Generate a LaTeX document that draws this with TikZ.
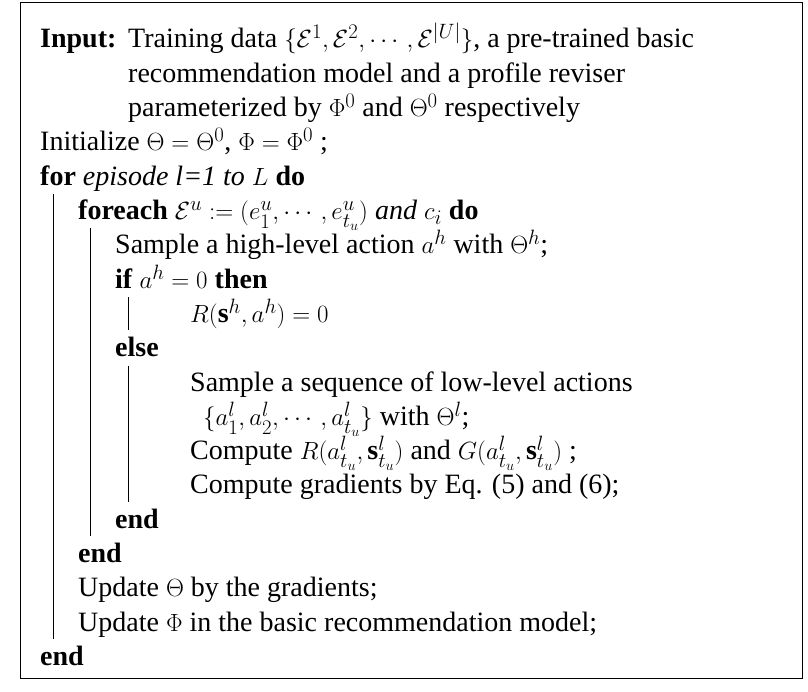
\documentclass[tikz,border=0pt]{standalone}
\usepackage{amsmath,amssymb}
\usepackage{fontspec}
\setmainfont{Liberation Serif}
\begin{document}
\begin{tikzpicture}[x=1pt,y=-1pt,
 ln/.style={anchor=base west,inner sep=0pt,font=\fontsize{28}{32}\selectfont},
 rule/.style={line width=0.9pt}]
\useasboundingbox (0,0) rectangle (808,692);
\draw[line width=1pt] (20,3) rectangle (802,678);
\def\yy#1{48+34.3*#1}
\node[ln] (in) at (40,\yy{0}) {\textbf{Input:}};
\node[ln] (l0) at (128,\yy{0}) {Training data $\{\mathcal{E}^1,\mathcal{E}^2,\cdots,\mathcal{E}^{|U|}\}$, a pre-trained basic};
\node[ln] (l1) at (128,\yy{1}) {recommendation model and a profile reviser};
\node[ln] (l2) at (128,\yy{2}) {parameterized by $\Phi^0$ and $\Theta^0$ respectively};
\node[ln] (l3) at (40,\yy{3}) {Initialize $\Theta=\Theta^0$, $\Phi=\Phi^0$ ;};
\node[ln] (l4) at (40,\yy{4}) {\textbf{for} \textit{episode l=1 to} $L$ \textbf{do}};
\node[ln] (l5) at (78,\yy{5}) {\textbf{foreach} $\mathcal{E}^u:=(e^u_1,\cdots,e^u_{t_u})$ \textit{and} $c_i$ \textbf{do}};
\node[ln] (l6) at (115,\yy{6}) {Sample a high-level action $a^h$ with $\Theta^h$;};
\node[ln] (l7) at (115,\yy{7}) {\textbf{if} $a^h=0$ \textbf{then}};
\node[ln] (l8) at (190,\yy{8}) {$R(\mathbf{s}^h,a^h)=0$};
\node[ln] (l9) at (115,\yy{9}) {\textbf{else}};
\node[ln] (l10) at (190,\yy{10}) {Sample a sequence of low-level actions};
\node[ln] (l11) at (203,\yy{11}) {$\{a^l_1,a^l_2,\cdots,a^l_{t_u}\}$ with $\Theta^l$;};
\node[ln] (l12) at (190,\yy{12}) {Compute $R(a^l_{t_u},\mathbf{s}^l_{t_u})$ and $G(a^l_{t_u},\mathbf{s}^l_{t_u})$ ;};
\node[ln] (l13) at (190,\yy{13}) {Compute gradients by Eq. (5) and (6);};
\node[ln] (l14) at (115,\yy{14}) {\textbf{end}};
\node[ln] (l15) at (78,\yy{15}) {\textbf{end}};
\node[ln] (l16) at (78,\yy{16}) {Update $\Theta$ by the gradients;};
\node[ln] (l17) at (78,\yy{17}) {Update $\Phi$ in the basic recommendation model;};
\node[ln] (l18) at (40,\yy{18}) {\textbf{end}};
\draw[rule] (53,\yy{4}+9) -- (53,\yy{17}+8);
\draw[rule] (90,\yy{5}+9) -- (90,\yy{14}+8);
\draw[rule] (128,\yy{7}+9) -- (128,\yy{8}+8);
\draw[rule] (128,\yy{9}+9) -- (128,\yy{13}+8);
\end{tikzpicture}
\end{document}
